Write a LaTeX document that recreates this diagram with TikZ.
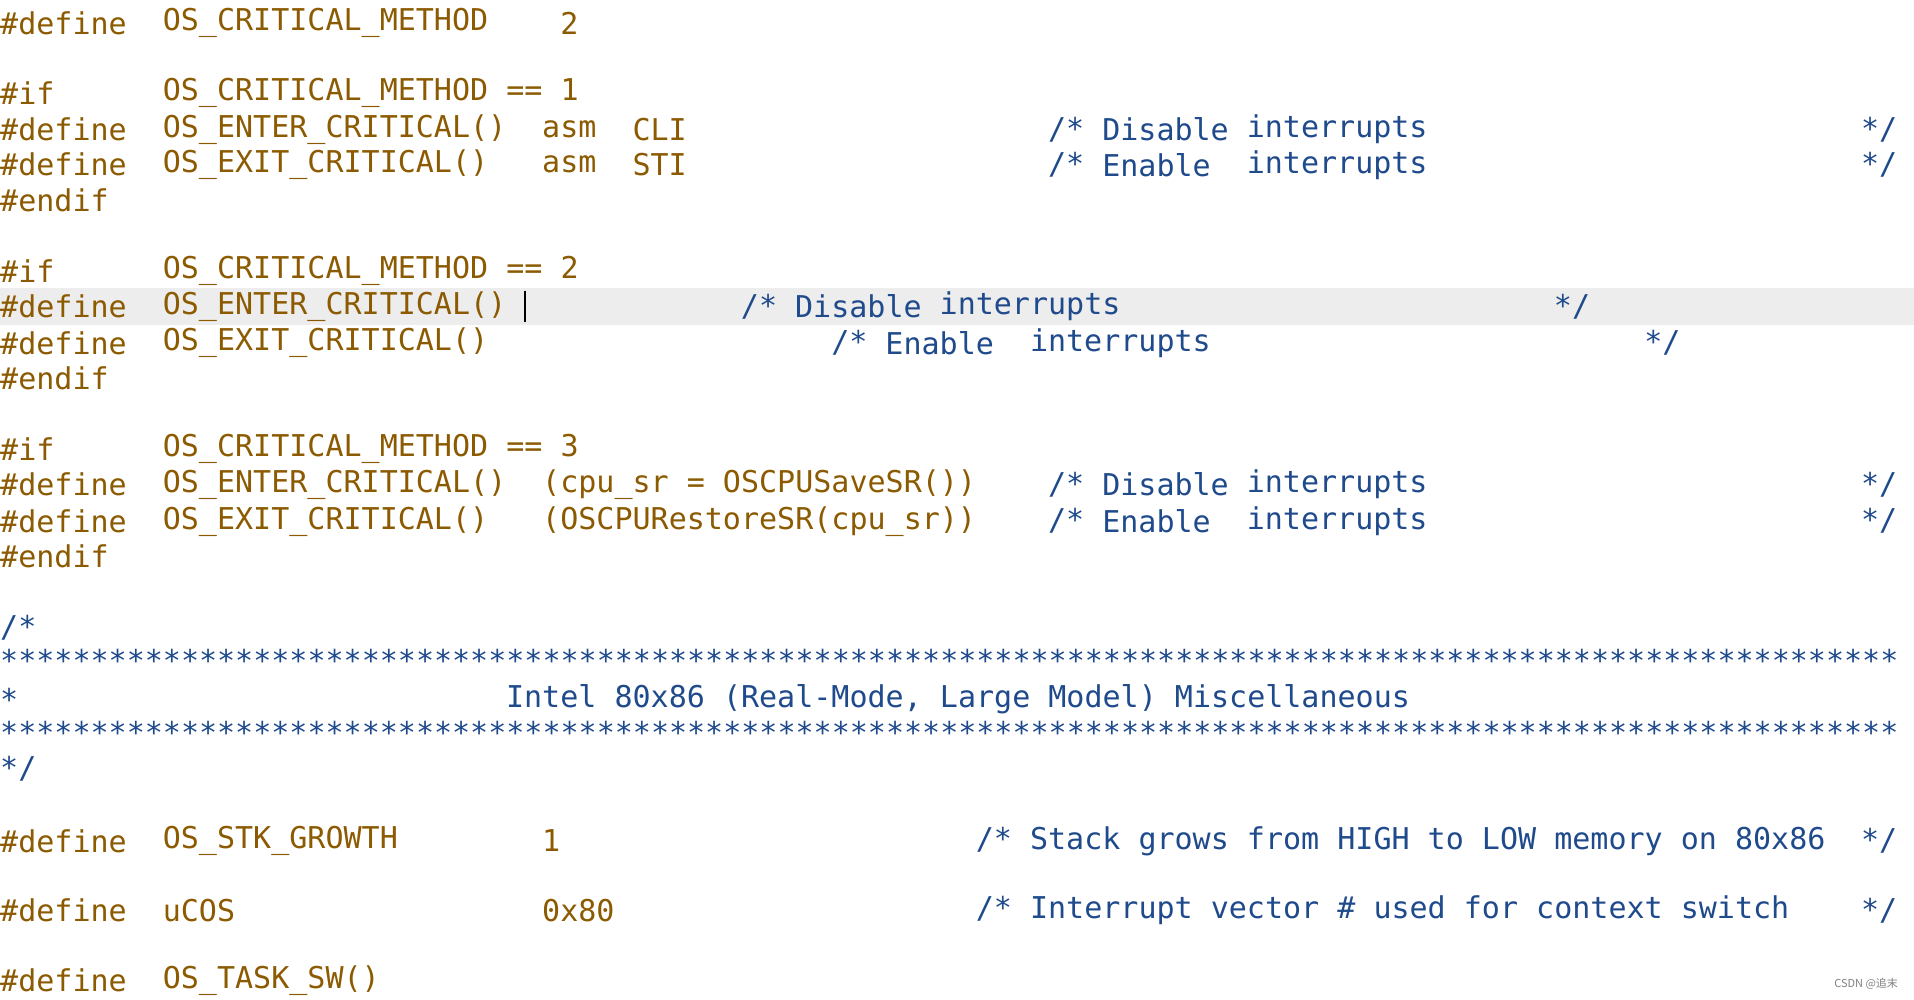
\documentclass[tikz,border=0pt]{standalone}
\usepackage{fontspec}
\setmonofont{DejaVu Sans Mono}
\newfontfamily\cjk{Noto Sans CJK SC}
\definecolor{kw}{HTML}{8C5A00}
\definecolor{cm}{HTML}{1F4A8C}
\newcommand{\Tk}[4]{\node[tok,text=#3] at ({#1*14.8},#2) {#4};}
\begin{document}
\begin{tikzpicture}[x=1pt,y=-1pt,tok/.style={anchor=west,inner sep=0pt,font=\fontsize{24.6}{30}\selectfont\ttfamily}]
\useasboundingbox (0,0) rectangle (1568,819);
\fill[white] (0,0) rectangle (1568,819);
\fill[black!7] (0,236) rectangle (1568,266);
\Tk{0}{19}{kw}{\#define}\Tk{9}{19}{kw}{OS\_CRITICAL\_METHOD}\Tk{31}{19}{kw}{2}
% method 1
\Tk{0}{76}{kw}{\#if}\Tk{9}{76}{kw}{OS\_CRITICAL\_METHOD == 1}
\Tk{0}{106}{kw}{\#define}\Tk{9}{106}{kw}{OS\_ENTER\_CRITICAL()}\Tk{30}{106}{kw}{asm}\Tk{35}{106}{kw}{CLI}
\Tk{58}{106}{cm}{/*}\Tk{61}{106}{cm}{Disable}\Tk{69}{106}{cm}{interrupts}\Tk{103}{106}{cm}{*/}
\Tk{0}{135}{kw}{\#define}\Tk{9}{135}{kw}{OS\_EXIT\_CRITICAL()}\Tk{30}{135}{kw}{asm}\Tk{35}{135}{kw}{STI}
\Tk{58}{135}{cm}{/*}\Tk{61}{135}{cm}{Enable}\Tk{69}{135}{cm}{interrupts}\Tk{103}{135}{cm}{*/}
\Tk{0}{164}{kw}{\#endif}
% method 2
\Tk{0}{222}{kw}{\#if}\Tk{9}{222}{kw}{OS\_CRITICAL\_METHOD == 2}
\Tk{0}{251}{kw}{\#define}\Tk{9}{251}{kw}{OS\_ENTER\_CRITICAL()}
\draw[black,line width=1.2pt] (430,238) -- (430,264);
\Tk{41}{251}{cm}{/*}\Tk{44}{251}{cm}{Disable}\Tk{52}{251}{cm}{interrupts}\Tk{86}{251}{cm}{*/}
\Tk{0}{281}{kw}{\#define}\Tk{9}{281}{kw}{OS\_EXIT\_CRITICAL()}
\Tk{46}{281}{cm}{/*}\Tk{49}{281}{cm}{Enable}\Tk{57}{281}{cm}{interrupts}\Tk{91}{281}{cm}{*/}
\Tk{0}{310}{kw}{\#endif}
% method 3
\Tk{0}{368}{kw}{\#if}\Tk{9}{368}{kw}{OS\_CRITICAL\_METHOD == 3}
\Tk{0}{397}{kw}{\#define}\Tk{9}{397}{kw}{OS\_ENTER\_CRITICAL()}\Tk{30}{397}{kw}{(cpu\_sr = OSCPUSaveSR())}
\Tk{58}{397}{cm}{/*}\Tk{61}{397}{cm}{Disable}\Tk{69}{397}{cm}{interrupts}\Tk{103}{397}{cm}{*/}
\Tk{0}{427}{kw}{\#define}\Tk{9}{427}{kw}{OS\_EXIT\_CRITICAL()}\Tk{30}{427}{kw}{(OSCPURestoreSR(cpu\_sr))}
\Tk{58}{427}{cm}{/*}\Tk{61}{427}{cm}{Enable}\Tk{69}{427}{cm}{interrupts}\Tk{103}{427}{cm}{*/}
\Tk{0}{456}{kw}{\#endif}
% banner
\Tk{0}{514}{cm}{/*}
\Tk{0}{541}{cm}{*********************************************************************************************************}
\Tk{0}{573}{cm}{*}\Tk{28}{573}{cm}{Intel 80x86 (Real-Mode, Large Model) Miscellaneous}
\Tk{0}{600}{cm}{*********************************************************************************************************}
\Tk{0}{630}{cm}{*/}
% misc
\Tk{0}{689}{kw}{\#define}\Tk{9}{689}{kw}{OS\_STK\_GROWTH}\Tk{30}{689}{kw}{1}
\Tk{54}{689}{cm}{/* Stack grows from HIGH to LOW memory on 80x86}\Tk{103}{689}{cm}{*/}
\Tk{0}{746}{kw}{\#define}\Tk{9}{746}{kw}{uCOS}\Tk{30}{746}{kw}{0x80}
\Tk{54}{746}{cm}{/* Interrupt vector \# used for context switch}\Tk{103}{746}{cm}{*/}
\Tk{0}{803}{kw}{\#define}\Tk{9}{803}{kw}{OS\_TASK\_SW()}
\node[anchor=east,inner sep=0pt,font=\fontsize{9}{10}\selectfont\cjk,text=black!50] at (1555,806) {CSDN @追末};
\end{tikzpicture}
\end{document}
